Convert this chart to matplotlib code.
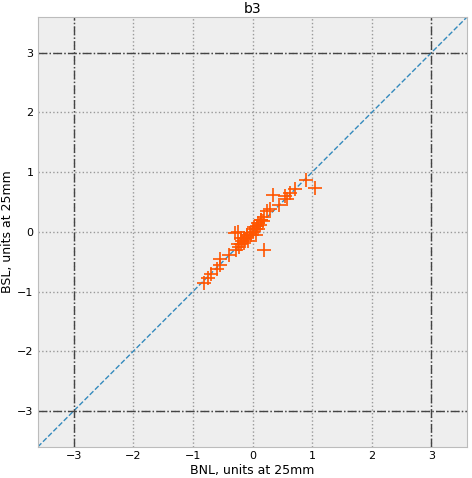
import numpy as np
import matplotlib.pyplot as plt

bnl = [0.90, 1.05, 0.62, 0.55, 0.58, 0.35, 0.45, 0.30, 0.25, 0.20, 0.15, 0.10, 0.18,
       0.20, 0.05, 0.00, 0.02, -0.05, 0.08, 0.12, -0.10, -0.12, -0.15, -0.18, -0.20,
       -0.22, -0.25, -0.30, -0.25, -0.15, -0.08, -0.02, 0.05, 0.10, 0.72, 0.15,
       -0.55, -0.55, -0.60, -0.70, -0.75, -0.82, -0.40, -0.28, -0.10, 0.00, -0.20]
bsl = [0.87, 0.73, 0.65, 0.60, 0.55, 0.62, 0.45, 0.38, 0.35, 0.25, 0.20, 0.15, 0.18,
       -0.30, 0.05, 0.00, 0.08, -0.02, 0.10, 0.12, -0.05, -0.12, -0.18, -0.15, -0.20,
       -0.25, -0.20, -0.02, 0.00, -0.10, -0.15, -0.05, -0.05, 0.05, 0.72, 0.20,
       -0.45, -0.55, -0.62, -0.70, -0.78, -0.85, -0.38, -0.30, -0.08, 0.05, -0.10]

fig, ax = plt.subplots(figsize=(4.72, 4.78), dpi=100)
ax.set_facecolor('#eeeeee')
for s in ax.spines.values():
    s.set_color('#bcbcbc')
ax.grid(True, color='#999999', linestyle=':', linewidth=1)
ax.set_axisbelow(True)
ax.tick_params(length=0, labelsize=8, pad=3)

lim = 3.6
ax.plot([-lim, lim], [-lim, lim], '--', color='#348abd', linewidth=1)
for v in (-3, 3):
    ax.axhline(v, color='#444444', linestyle='-.', linewidth=1)
    ax.axvline(v, color='#444444', linestyle='-.', linewidth=1)
ax.scatter(bnl, bsl, marker='+', s=90, color='#ff5500', linewidths=1.2, zorder=3)

ax.set_xlim(-lim, lim)
ax.set_ylim(-lim, lim)
ax.set_xticks([-3, -2, -1, 0, 1, 2, 3])
ax.set_yticks([-3, -2, -1, 0, 1, 2, 3])
ax.set_xlabel('BNL, units at 25mm', fontsize=9, labelpad=2)
ax.set_ylabel('BSL, units at 25mm', fontsize=9, labelpad=2)
ax.set_title('b3', fontsize=10, pad=3)
fig.subplots_adjust(left=0.08, right=0.99, top=0.965, bottom=0.065)
fig.savefig('out.png')
